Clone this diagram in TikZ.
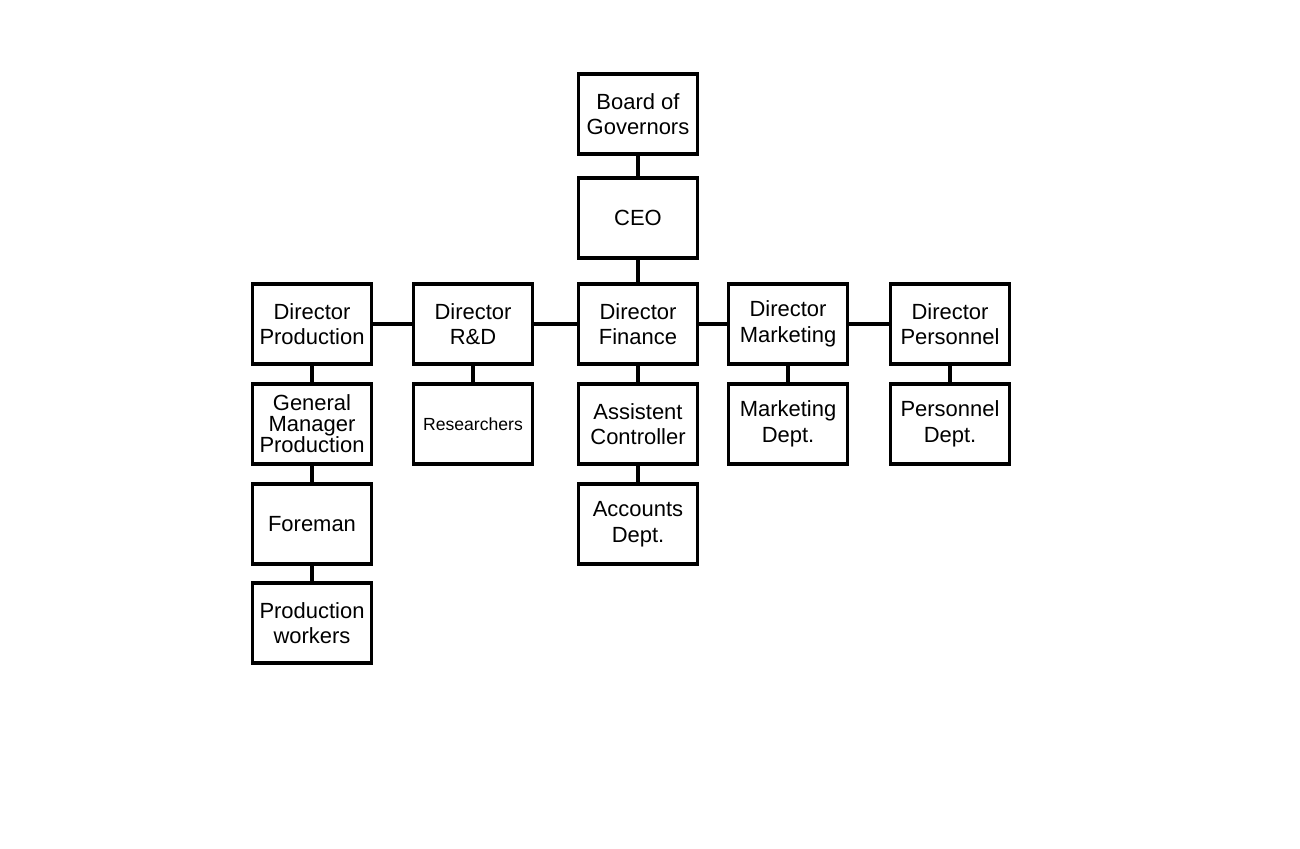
\documentclass[tikz,border=0pt]{standalone}
\usepackage{fontspec}
\setmainfont{Liberation Sans}
\begin{document}
\begin{tikzpicture}[x=0.02cm,y=-0.02cm,
  box/.style={draw,line width=1.8pt,minimum width=2.38cm,minimum height=1.6cm,align=center,font=\fontsize{12.5}{14.5}\selectfont,inner sep=1pt},
  conn/.style={line width=2pt}]
\useasboundingbox (0,0) rectangle (1300,848);
\node[box] (board) at (638,114) {Board of\\Governors};
\node[box] (ceo) at (638,218) {CEO};
\node[box] (dprod) at (312,324) {Director\\Production};
\node[box] (drd) at (473,324) {Director\\R\&D};
\node[box] (dfin) at (638,324) {Director\\Finance};
\node[box] (dmkt) at (788,324) {Director\\Marketing};
\node[box] (dper) at (950,324) {Director\\Personnel};
\node[box,font=\fontsize{12.5}{12}\selectfont] (gm) at (312,424) {General\\Manager\\Production};
\node[box,font=\fontsize{10}{11}\selectfont] (res) at (473,424) {Researchers};
\node[box] (asst) at (638,424) {Assistent\\Controller};
\node[box] (mdept) at (788,424) {Marketing\\Dept.};
\node[box] (pdept) at (950,424) {Personnel\\Dept.};
\node[box] (fore) at (312,524) {Foreman};
\node[box] (acc) at (638,524) {Accounts\\Dept.};
\node[box] (work) at (312,623) {Production\\workers};
\draw[conn] (board) -- (ceo);
\draw[conn] (ceo) -- (dfin);
\draw[conn] (dprod) -- (drd);
\draw[conn] (drd) -- (dfin);
\draw[conn] (dfin) -- (dmkt);
\draw[conn] (dmkt) -- (dper);
\draw[conn] (dprod) -- (gm);
\draw[conn] (gm) -- (fore);
\draw[conn] (fore) -- (work);
\draw[conn] (drd) -- (res);
\draw[conn] (dfin) -- (asst);
\draw[conn] (asst) -- (acc);
\draw[conn] (dmkt) -- (mdept);
\draw[conn] (dper) -- (pdept);
\end{tikzpicture}
\end{document}
